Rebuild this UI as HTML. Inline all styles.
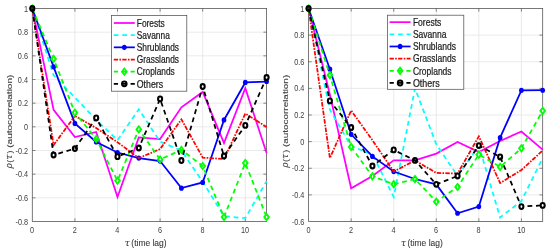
<!DOCTYPE html>
<html lang="en">
<head>
<meta charset="utf-8">
<title>Autocorrelation by land cover</title>
<style>
html,body{margin:0;padding:0;background:#fff;}
body{width:550px;height:252px;overflow:hidden;}
svg{display:block;}
text{font-family:"Liberation Sans",sans-serif;}
.tk{font-size:9px;fill:#404040;}
.lb{font-size:8.5px;fill:#404040;stroke:#404040;stroke-width:0.12px;}
.yl{font-size:8.1px;}
.mi{font-family:"DejaVu Serif","Liberation Serif",serif;font-style:italic;font-size:9px;}
.lg{font-size:10.2px;fill:#1c1c1c;stroke:#1c1c1c;stroke-width:0.22px;}
</style>
</head>
<body>
<svg width="550" height="252" viewBox="0 0 550 252">
<rect width="550" height="252" fill="#fff"/>
<path d="M74.9 8.5V221.5M117.5 8.5V221.5M160.1 8.5V221.5M202.7 8.5V221.5M245.3 8.5V221.5M32.3 32.17H266.6M32.3 55.83H266.6M32.3 79.5H266.6M32.3 103.17H266.6M32.3 126.83H266.6M32.3 150.5H266.6M32.3 174.17H266.6M32.3 197.83H266.6" stroke="#e4e4e4" stroke-width="0.8" fill="none"/>
<path d="M74.9 221.5v-3.2M74.9 8.5v3.2M117.5 221.5v-3.2M117.5 8.5v3.2M160.1 221.5v-3.2M160.1 8.5v3.2M202.7 221.5v-3.2M202.7 8.5v3.2M245.3 221.5v-3.2M245.3 8.5v3.2M32.3 32.17h3.2M266.6 32.17h-3.2M32.3 55.83h3.2M266.6 55.83h-3.2M32.3 79.5h3.2M266.6 79.5h-3.2M32.3 103.17h3.2M266.6 103.17h-3.2M32.3 126.83h3.2M266.6 126.83h-3.2M32.3 150.5h3.2M266.6 150.5h-3.2M32.3 174.17h3.2M266.6 174.17h-3.2M32.3 197.83h3.2M266.6 197.83h-3.2" stroke="#585858" stroke-width="0.7" fill="none"/>
<rect x="32.3" y="8.5" width="234.3" height="213" fill="none" stroke="#585858" stroke-width="0.8"/>
<polyline points="32.3,8.5 53.6,109.91 74.9,137.01 96.2,131.92 117.5,197.12 138.8,137.36 160.1,139.02 181.4,107.31 202.7,91.93 224,143.04 245.3,88.14 266.6,152.99" fill="none" stroke="#ff00ff" stroke-width="1.75" stroke-linejoin="miter"/>
<polyline points="32.3,8.5 53.6,75.36 74.9,97.6 96.2,119.73 117.5,140.2 138.8,109.32 160.1,141.62 181.4,150.5 202.7,181.86 224,216.17 245.3,218.19 266.6,181.15" fill="none" stroke="#00ffff" stroke-width="1.75" stroke-dasharray="4.8 3.7"/>
<polyline points="32.3,8.5 53.6,66.84 74.9,123.4 96.2,141.98 117.5,152.51 138.8,158.07 160.1,161.03 181.4,188.13 202.7,182.45 224,119.97 245.3,82.46 266.6,81.51" fill="none" stroke="#0000ff" stroke-width="1.75"/>
<ellipse cx="32.3" cy="8.5" rx="2.35" ry="2.6" fill="#0000ff"/>
<ellipse cx="53.6" cy="66.84" rx="2.35" ry="2.6" fill="#0000ff"/>
<ellipse cx="74.9" cy="123.4" rx="2.35" ry="2.6" fill="#0000ff"/>
<ellipse cx="96.2" cy="141.98" rx="2.35" ry="2.6" fill="#0000ff"/>
<ellipse cx="117.5" cy="152.51" rx="2.35" ry="2.6" fill="#0000ff"/>
<ellipse cx="138.8" cy="158.07" rx="2.35" ry="2.6" fill="#0000ff"/>
<ellipse cx="160.1" cy="161.03" rx="2.35" ry="2.6" fill="#0000ff"/>
<ellipse cx="181.4" cy="188.13" rx="2.35" ry="2.6" fill="#0000ff"/>
<ellipse cx="202.7" cy="182.45" rx="2.35" ry="2.6" fill="#0000ff"/>
<ellipse cx="224" cy="119.97" rx="2.35" ry="2.6" fill="#0000ff"/>
<ellipse cx="245.3" cy="82.46" rx="2.35" ry="2.6" fill="#0000ff"/>
<ellipse cx="266.6" cy="81.51" rx="2.35" ry="2.6" fill="#0000ff"/>
<polyline points="32.3,8.5 53.6,145.06 74.9,115.95 96.2,128.02 117.5,142.22 138.8,158.07 160.1,149.08 181.4,119.38 202.7,157.6 224,159.02 245.3,113.58 266.6,126.95" fill="none" stroke="#ff0000" stroke-width="1.75" stroke-dasharray="4.4 1.3 1.6 1.3"/>
<polyline points="32.3,8.5 53.6,58.91 74.9,112.63 96.2,139.02 117.5,180.68 138.8,129.44 160.1,159.49 181.4,149.91 202.7,166 224,217.12 245.3,163.04 266.6,217.12" fill="none" stroke="#00ff00" stroke-width="1.75" stroke-dasharray="4.8 3.7"/>
<path d="M53.6 57.01L52.6 58.91L53.6 60.81L54.6 58.91ZM74.9 110.73L73.9 112.63L74.9 114.53L75.9 112.63ZM117.5 178.78L116.5 180.68L117.5 182.58L118.5 180.68ZM138.8 127.54L137.8 129.44L138.8 131.34L139.8 129.44ZM160.1 157.59L159.1 159.49L160.1 161.39L161.1 159.49ZM224 215.22L223 217.12L224 219.02L225 217.12ZM245.3 161.14L244.3 163.04L245.3 164.94L246.3 163.04ZM266.6 215.22L265.6 217.12L266.6 219.02L267.6 217.12Z" fill="#fff"/>
<path d="M32.3 3.9L35.8 8.5L32.3 13.1L28.8 8.5ZM32.3 6.6L31.3 8.5L32.3 10.4L33.3 8.5ZM53.6 54.31L57.1 58.91L53.6 63.51L50.1 58.91ZM53.6 57.01L52.6 58.91L53.6 60.81L54.6 58.91ZM74.9 108.03L78.4 112.63L74.9 117.23L71.4 112.63ZM74.9 110.73L73.9 112.63L74.9 114.53L75.9 112.63ZM96.2 134.42L99.7 139.02L96.2 143.62L92.7 139.02ZM96.2 137.12L95.2 139.02L96.2 140.92L97.2 139.02ZM117.5 176.08L121 180.68L117.5 185.28L114 180.68ZM117.5 178.78L116.5 180.68L117.5 182.58L118.5 180.68ZM138.8 124.84L142.3 129.44L138.8 134.04L135.3 129.44ZM138.8 127.54L137.8 129.44L138.8 131.34L139.8 129.44ZM160.1 154.89L163.6 159.49L160.1 164.09L156.6 159.49ZM160.1 157.59L159.1 159.49L160.1 161.39L161.1 159.49ZM181.4 145.31L184.9 149.91L181.4 154.51L177.9 149.91ZM181.4 148.01L180.4 149.91L181.4 151.81L182.4 149.91ZM202.7 161.4L206.2 166L202.7 170.6L199.2 166ZM202.7 164.1L201.7 166L202.7 167.9L203.7 166ZM224 212.52L227.5 217.12L224 221.72L220.5 217.12ZM224 215.22L223 217.12L224 219.02L225 217.12ZM245.3 158.44L248.8 163.04L245.3 167.64L241.8 163.04ZM245.3 161.14L244.3 163.04L245.3 164.94L246.3 163.04ZM266.6 212.52L270.1 217.12L266.6 221.72L263.1 217.12ZM266.6 215.22L265.6 217.12L266.6 219.02L267.6 217.12Z" fill="#00ff00" fill-rule="evenodd"/>
<polyline points="32.3,8.5 53.6,155 74.9,148.61 96.2,117.96 117.5,156.65 138.8,148.01 160.1,98.91 181.4,160.56 202.7,86.48 224,156.06 245.3,125.41 266.6,77.49" fill="none" stroke="#000" stroke-width="1.75" stroke-dasharray="4.8 3.7"/>
<ellipse cx="32.3" cy="8.5" rx="2.0" ry="2.4" fill="none" stroke="#000" stroke-width="2.1"/>
<ellipse cx="53.6" cy="155" rx="2.0" ry="2.4" fill="#fff" stroke="#000" stroke-width="2.1"/>
<ellipse cx="74.9" cy="148.61" rx="2.0" ry="2.4" fill="none" stroke="#000" stroke-width="2.1"/>
<ellipse cx="96.2" cy="117.96" rx="2.0" ry="2.4" fill="#fff" stroke="#000" stroke-width="2.1"/>
<ellipse cx="117.5" cy="156.65" rx="2.0" ry="2.4" fill="#fff" stroke="#000" stroke-width="2.1"/>
<ellipse cx="138.8" cy="148.01" rx="2.0" ry="2.4" fill="#fff" stroke="#000" stroke-width="2.1"/>
<ellipse cx="160.1" cy="98.91" rx="2.0" ry="2.4" fill="#fff" stroke="#000" stroke-width="2.1"/>
<ellipse cx="181.4" cy="160.56" rx="2.0" ry="2.4" fill="#fff" stroke="#000" stroke-width="2.1"/>
<ellipse cx="202.7" cy="86.48" rx="2.0" ry="2.4" fill="#fff" stroke="#000" stroke-width="2.1"/>
<ellipse cx="224" cy="156.06" rx="2.0" ry="2.4" fill="#fff" stroke="#000" stroke-width="2.1"/>
<ellipse cx="245.3" cy="125.41" rx="2.0" ry="2.4" fill="#fff" stroke="#000" stroke-width="2.1"/>
<ellipse cx="266.6" cy="77.49" rx="2.0" ry="2.4" fill="#fff" stroke="#000" stroke-width="2.1"/>
<text transform="translate(32.1 233.1) scale(0.81 1)" text-anchor="middle" class="tk">0</text>
<text transform="translate(74.7 233.1) scale(0.81 1)" text-anchor="middle" class="tk">2</text>
<text transform="translate(117.3 233.1) scale(0.81 1)" text-anchor="middle" class="tk">4</text>
<text transform="translate(159.9 233.1) scale(0.81 1)" text-anchor="middle" class="tk">6</text>
<text transform="translate(202.5 233.1) scale(0.81 1)" text-anchor="middle" class="tk">8</text>
<text transform="translate(245.1 233.1) scale(0.81 1)" text-anchor="middle" class="tk">10</text>
<text transform="translate(28 11.5) scale(0.81 1)" text-anchor="end" class="tk">1</text>
<text transform="translate(28 35.17) scale(0.81 1)" text-anchor="end" class="tk">0.8</text>
<text transform="translate(28 58.83) scale(0.81 1)" text-anchor="end" class="tk">0.6</text>
<text transform="translate(28 82.5) scale(0.81 1)" text-anchor="end" class="tk">0.4</text>
<text transform="translate(28 106.17) scale(0.81 1)" text-anchor="end" class="tk">0.2</text>
<text transform="translate(28 129.83) scale(0.81 1)" text-anchor="end" class="tk">0</text>
<text transform="translate(28 153.5) scale(0.81 1)" text-anchor="end" class="tk">-0.2</text>
<text transform="translate(28 177.17) scale(0.81 1)" text-anchor="end" class="tk">-0.4</text>
<text transform="translate(28 200.83) scale(0.81 1)" text-anchor="end" class="tk">-0.6</text>
<text transform="translate(28 224.5) scale(0.81 1)" text-anchor="end" class="tk">-0.8</text>
<text x="124.85" y="246.1" class="lb mi">τ</text>
<text x="131.35" y="246.1" class="lb" textLength="35.2" lengthAdjust="spacingAndGlyphs">(time lag)</text>
<text transform="translate(12.4 168.4) rotate(-90)" class="lb mi">ρ</text>
<text transform="translate(11.8 162.7) rotate(-90)" class="lb yl" textLength="3" lengthAdjust="spacingAndGlyphs">(</text>
<text transform="translate(12.4 159.5) rotate(-90)" class="lb mi">τ</text>
<text transform="translate(11.8 153.4) rotate(-90)" class="lb yl" textLength="3" lengthAdjust="spacingAndGlyphs">)</text>
<text transform="translate(11.8 147.8) rotate(-90)" class="lb yl" textLength="73.2" lengthAdjust="spacingAndGlyphs">(autocorrelation)</text>
<rect x="111.6" y="15.4" width="75.2" height="75.8" fill="#fff" stroke="#505050" stroke-width="0.75"/>
<path d="M113.8 23H134.8" stroke="#ff00ff" stroke-width="1.75"/>
<text x="136.8" y="26.8" class="lg" textLength="27.9" lengthAdjust="spacingAndGlyphs">Forests</text>
<path d="M113.8 35.17H134.8" stroke="#00ffff" stroke-width="1.75" stroke-dasharray="4.7 3.8"/>
<text x="136.8" y="38.97" class="lg" textLength="33" lengthAdjust="spacingAndGlyphs">Savanna</text>
<path d="M113.8 47.34H134.8" stroke="#0000ff" stroke-width="1.75"/>
<ellipse cx="124.3" cy="47.34" rx="2.35" ry="2.6" fill="#0000ff"/>
<text x="136.8" y="51.14" class="lg" textLength="42.2" lengthAdjust="spacingAndGlyphs">Shrublands</text>
<path d="M113.8 59.51H134.8" stroke="#ff0000" stroke-width="1.75" stroke-dasharray="4.3 1.3 1.6 1.3"/>
<text x="136.8" y="63.31" class="lg" textLength="42.2" lengthAdjust="spacingAndGlyphs">Grasslands</text>
<path d="M113.8 71.68H134.8" stroke="#00ff00" stroke-width="1.75" stroke-dasharray="4.2 4.2"/>
<path d="M124.3 67.08L127.8 71.68L124.3 76.28L120.8 71.68ZM124.3 69.78L123.3 71.68L124.3 73.58L125.3 71.68Z" fill="#00ff00" fill-rule="evenodd"/>
<text x="136.8" y="75.48" class="lg" textLength="37.9" lengthAdjust="spacingAndGlyphs">Croplands</text>
<path d="M113.8 83.85H134.8" stroke="#000" stroke-width="1.75" stroke-dasharray="4.2 4.2"/>
<ellipse cx="124.3" cy="83.85" rx="2.3" ry="2.45" fill="none" stroke="#000" stroke-width="2"/>
<text x="136.8" y="87.65" class="lg" textLength="26.3" lengthAdjust="spacingAndGlyphs">Others</text>
<path d="M351.16 8.5V221.5M393.72 8.5V221.5M436.28 8.5V221.5M478.84 8.5V221.5M521.4 8.5V221.5M308.6 35.12H542.68M308.6 61.75H542.68M308.6 88.38H542.68M308.6 115H542.68M308.6 141.62H542.68M308.6 168.25H542.68M308.6 194.88H542.68" stroke="#e4e4e4" stroke-width="0.8" fill="none"/>
<path d="M351.16 221.5v-3.2M351.16 8.5v3.2M393.72 221.5v-3.2M393.72 8.5v3.2M436.28 221.5v-3.2M436.28 8.5v3.2M478.84 221.5v-3.2M478.84 8.5v3.2M521.4 221.5v-3.2M521.4 8.5v3.2M308.6 35.12h3.2M542.68 35.12h-3.2M308.6 61.75h3.2M542.68 61.75h-3.2M308.6 88.38h3.2M542.68 88.38h-3.2M308.6 115h3.2M542.68 115h-3.2M308.6 141.62h3.2M542.68 141.62h-3.2M308.6 168.25h3.2M542.68 168.25h-3.2M308.6 194.88h3.2M542.68 194.88h-3.2" stroke="#585858" stroke-width="0.7" fill="none"/>
<rect x="308.6" y="8.5" width="234.08" height="213" fill="none" stroke="#585858" stroke-width="0.8"/>
<polyline points="308.6,8.5 329.88,94.5 351.16,188.35 372.44,175.97 393.72,160.26 415,160.4 436.28,153.61 457.56,141.89 478.84,152.01 500.12,140.96 521.4,131.51 542.68,149.61" fill="none" stroke="#ff00ff" stroke-width="1.75" stroke-linejoin="miter"/>
<polyline points="308.6,8.5 329.88,109.67 351.16,146.28 372.44,154.27 393.72,197 415,88.38 436.28,144.29 457.56,175.97 478.84,145.62 500.12,217.51 521.4,201 542.68,158" fill="none" stroke="#00ffff" stroke-width="1.75" stroke-dasharray="4.8 3.7"/>
<polyline points="308.6,8.5 329.88,69.2 351.16,134.3 372.44,156.4 393.72,171.58 415,179.03 436.28,184.36 457.56,213.25 478.84,206.59 500.12,137.63 521.4,90.37 542.68,90.24" fill="none" stroke="#0000ff" stroke-width="1.75"/>
<ellipse cx="308.6" cy="8.5" rx="2.35" ry="2.6" fill="#0000ff"/>
<ellipse cx="329.88" cy="69.2" rx="2.35" ry="2.6" fill="#0000ff"/>
<ellipse cx="351.16" cy="134.3" rx="2.35" ry="2.6" fill="#0000ff"/>
<ellipse cx="372.44" cy="156.4" rx="2.35" ry="2.6" fill="#0000ff"/>
<ellipse cx="393.72" cy="171.58" rx="2.35" ry="2.6" fill="#0000ff"/>
<ellipse cx="415" cy="179.03" rx="2.35" ry="2.6" fill="#0000ff"/>
<ellipse cx="436.28" cy="184.36" rx="2.35" ry="2.6" fill="#0000ff"/>
<ellipse cx="457.56" cy="213.25" rx="2.35" ry="2.6" fill="#0000ff"/>
<ellipse cx="478.84" cy="206.59" rx="2.35" ry="2.6" fill="#0000ff"/>
<ellipse cx="500.12" cy="137.63" rx="2.35" ry="2.6" fill="#0000ff"/>
<ellipse cx="521.4" cy="90.37" rx="2.35" ry="2.6" fill="#0000ff"/>
<ellipse cx="542.68" cy="90.24" rx="2.35" ry="2.6" fill="#0000ff"/>
<polyline points="308.6,8.5 329.88,158 351.16,110.47 372.44,140.29 393.72,171.58 415,160.4 436.28,172.91 457.56,173.57 478.84,136.3 500.12,183.03 521.4,169.98 542.68,150.54" fill="none" stroke="#ff0000" stroke-width="1.75" stroke-dasharray="4.4 1.3 1.6 1.3"/>
<polyline points="308.6,8.5 329.88,75.2 351.16,146.95 372.44,176.37 393.72,184.22 415,179.03 436.28,201.66 457.56,187.02 478.84,154.54 500.12,166.92 521.4,148.28 542.68,110.87" fill="none" stroke="#00ff00" stroke-width="1.75" stroke-dasharray="4.8 3.7"/>
<path d="M329.88 73.3L328.88 75.2L329.88 77.1L330.88 75.2ZM351.16 145.05L350.16 146.95L351.16 148.85L352.16 146.95ZM372.44 174.47L371.44 176.37L372.44 178.27L373.44 176.37ZM415 177.13L414 179.03L415 180.93L416 179.03ZM436.28 199.76L435.28 201.66L436.28 203.56L437.28 201.66ZM457.56 185.12L456.56 187.02L457.56 188.92L458.56 187.02ZM500.12 165.02L499.12 166.92L500.12 168.82L501.12 166.92ZM521.4 146.38L520.4 148.28L521.4 150.18L522.4 148.28ZM542.68 108.97L541.68 110.87L542.68 112.77L543.68 110.87Z" fill="#fff"/>
<path d="M308.6 3.9L312.1 8.5L308.6 13.1L305.1 8.5ZM308.6 6.6L307.6 8.5L308.6 10.4L309.6 8.5ZM329.88 70.6L333.38 75.2L329.88 79.8L326.38 75.2ZM329.88 73.3L328.88 75.2L329.88 77.1L330.88 75.2ZM351.16 142.35L354.66 146.95L351.16 151.55L347.66 146.95ZM351.16 145.05L350.16 146.95L351.16 148.85L352.16 146.95ZM372.44 171.77L375.94 176.37L372.44 180.97L368.94 176.37ZM372.44 174.47L371.44 176.37L372.44 178.27L373.44 176.37ZM393.72 179.62L397.22 184.22L393.72 188.82L390.22 184.22ZM393.72 182.32L392.72 184.22L393.72 186.12L394.72 184.22ZM415 174.43L418.5 179.03L415 183.63L411.5 179.03ZM415 177.13L414 179.03L415 180.93L416 179.03ZM436.28 197.06L439.78 201.66L436.28 206.26L432.78 201.66ZM436.28 199.76L435.28 201.66L436.28 203.56L437.28 201.66ZM457.56 182.42L461.06 187.02L457.56 191.62L454.06 187.02ZM457.56 185.12L456.56 187.02L457.56 188.92L458.56 187.02ZM478.84 149.94L482.34 154.54L478.84 159.14L475.34 154.54ZM478.84 152.64L477.84 154.54L478.84 156.44L479.84 154.54ZM500.12 162.32L503.62 166.92L500.12 171.52L496.62 166.92ZM500.12 165.02L499.12 166.92L500.12 168.82L501.12 166.92ZM521.4 143.68L524.9 148.28L521.4 152.88L517.9 148.28ZM521.4 146.38L520.4 148.28L521.4 150.18L522.4 148.28ZM542.68 106.27L546.18 110.87L542.68 115.47L539.18 110.87ZM542.68 108.97L541.68 110.87L542.68 112.77L543.68 110.87Z" fill="#00ff00" fill-rule="evenodd"/>
<polyline points="308.6,8.5 329.88,100.89 351.16,127.51 372.44,165.99 393.72,149.88 415,160.4 436.28,184.36 457.56,175.97 478.84,145.62 500.12,156.93 521.4,206.59 542.68,205.39" fill="none" stroke="#000" stroke-width="1.75" stroke-dasharray="4.8 3.7"/>
<ellipse cx="308.6" cy="8.5" rx="2.0" ry="2.4" fill="none" stroke="#000" stroke-width="2.1"/>
<ellipse cx="329.88" cy="100.89" rx="2.0" ry="2.4" fill="#fff" stroke="#000" stroke-width="2.1"/>
<ellipse cx="351.16" cy="127.51" rx="2.0" ry="2.4" fill="#fff" stroke="#000" stroke-width="2.1"/>
<ellipse cx="372.44" cy="165.99" rx="2.0" ry="2.4" fill="#fff" stroke="#000" stroke-width="2.1"/>
<ellipse cx="393.72" cy="149.88" rx="2.0" ry="2.4" fill="#fff" stroke="#000" stroke-width="2.1"/>
<ellipse cx="415" cy="160.4" rx="2.0" ry="2.4" fill="none" stroke="#000" stroke-width="2.1"/>
<ellipse cx="436.28" cy="184.36" rx="2.0" ry="2.4" fill="#fff" stroke="#000" stroke-width="2.1"/>
<ellipse cx="457.56" cy="175.97" rx="2.0" ry="2.4" fill="#fff" stroke="#000" stroke-width="2.1"/>
<ellipse cx="478.84" cy="145.62" rx="2.0" ry="2.4" fill="#fff" stroke="#000" stroke-width="2.1"/>
<ellipse cx="500.12" cy="156.93" rx="2.0" ry="2.4" fill="none" stroke="#000" stroke-width="2.1"/>
<ellipse cx="521.4" cy="206.59" rx="2.0" ry="2.4" fill="#fff" stroke="#000" stroke-width="2.1"/>
<ellipse cx="542.68" cy="205.39" rx="2.0" ry="2.4" fill="#fff" stroke="#000" stroke-width="2.1"/>
<text transform="translate(308.4 233.1) scale(0.81 1)" text-anchor="middle" class="tk">0</text>
<text transform="translate(350.96 233.1) scale(0.81 1)" text-anchor="middle" class="tk">2</text>
<text transform="translate(393.52 233.1) scale(0.81 1)" text-anchor="middle" class="tk">4</text>
<text transform="translate(436.08 233.1) scale(0.81 1)" text-anchor="middle" class="tk">6</text>
<text transform="translate(478.64 233.1) scale(0.81 1)" text-anchor="middle" class="tk">8</text>
<text transform="translate(521.2 233.1) scale(0.81 1)" text-anchor="middle" class="tk">10</text>
<text transform="translate(304.3 11.5) scale(0.81 1)" text-anchor="end" class="tk">1</text>
<text transform="translate(304.3 38.12) scale(0.81 1)" text-anchor="end" class="tk">0.8</text>
<text transform="translate(304.3 64.75) scale(0.81 1)" text-anchor="end" class="tk">0.6</text>
<text transform="translate(304.3 91.38) scale(0.81 1)" text-anchor="end" class="tk">0.4</text>
<text transform="translate(304.3 118) scale(0.81 1)" text-anchor="end" class="tk">0.2</text>
<text transform="translate(304.3 144.62) scale(0.81 1)" text-anchor="end" class="tk">0</text>
<text transform="translate(304.3 171.25) scale(0.81 1)" text-anchor="end" class="tk">-0.2</text>
<text transform="translate(304.3 197.88) scale(0.81 1)" text-anchor="end" class="tk">-0.4</text>
<text transform="translate(304.3 224.5) scale(0.81 1)" text-anchor="end" class="tk">-0.6</text>
<text x="401.04" y="246.1" class="lb mi">τ</text>
<text x="407.54" y="246.1" class="lb" textLength="35.2" lengthAdjust="spacingAndGlyphs">(time lag)</text>
<text transform="translate(288.4 167.7) rotate(-90)" class="lb mi">ρ</text>
<text transform="translate(287.8 162) rotate(-90)" class="lb yl" textLength="3" lengthAdjust="spacingAndGlyphs">(</text>
<text transform="translate(288.4 158.8) rotate(-90)" class="lb mi">τ</text>
<text transform="translate(287.8 152.7) rotate(-90)" class="lb yl" textLength="3" lengthAdjust="spacingAndGlyphs">)</text>
<text transform="translate(287.8 147.1) rotate(-90)" class="lb yl" textLength="72.3" lengthAdjust="spacingAndGlyphs">(autocorrelation)</text>
<rect x="387.4" y="15.2" width="76.4" height="74.1" fill="#fff" stroke="#505050" stroke-width="0.75"/>
<path d="M389.6 22.15H410.6" stroke="#ff00ff" stroke-width="1.75"/>
<text x="412.9" y="25.95" class="lg" textLength="28.46" lengthAdjust="spacingAndGlyphs">Forests</text>
<path d="M389.6 34.31H410.6" stroke="#00ffff" stroke-width="1.75" stroke-dasharray="4.7 3.8"/>
<text x="412.9" y="38.11" class="lg" textLength="33.66" lengthAdjust="spacingAndGlyphs">Savanna</text>
<path d="M389.6 46.47H410.6" stroke="#0000ff" stroke-width="1.75"/>
<ellipse cx="400.1" cy="46.47" rx="2.35" ry="2.6" fill="#0000ff"/>
<text x="412.9" y="50.27" class="lg" textLength="43.04" lengthAdjust="spacingAndGlyphs">Shrublands</text>
<path d="M389.6 58.63H410.6" stroke="#ff0000" stroke-width="1.75" stroke-dasharray="4.3 1.3 1.6 1.3"/>
<text x="412.9" y="62.43" class="lg" textLength="43.04" lengthAdjust="spacingAndGlyphs">Grasslands</text>
<path d="M389.6 70.79H410.6" stroke="#00ff00" stroke-width="1.75" stroke-dasharray="4.2 4.2"/>
<path d="M400.1 66.19L403.6 70.79L400.1 75.39L396.6 70.79ZM400.1 68.89L399.1 70.79L400.1 72.69L401.1 70.79Z" fill="#00ff00" fill-rule="evenodd"/>
<text x="412.9" y="74.59" class="lg" textLength="38.66" lengthAdjust="spacingAndGlyphs">Croplands</text>
<path d="M389.6 82.95H410.6" stroke="#000" stroke-width="1.75" stroke-dasharray="4.2 4.2"/>
<ellipse cx="400.1" cy="82.95" rx="2.3" ry="2.45" fill="none" stroke="#000" stroke-width="2"/>
<text x="412.9" y="86.75" class="lg" textLength="26.83" lengthAdjust="spacingAndGlyphs">Others</text>
</svg>
</body>
</html>
